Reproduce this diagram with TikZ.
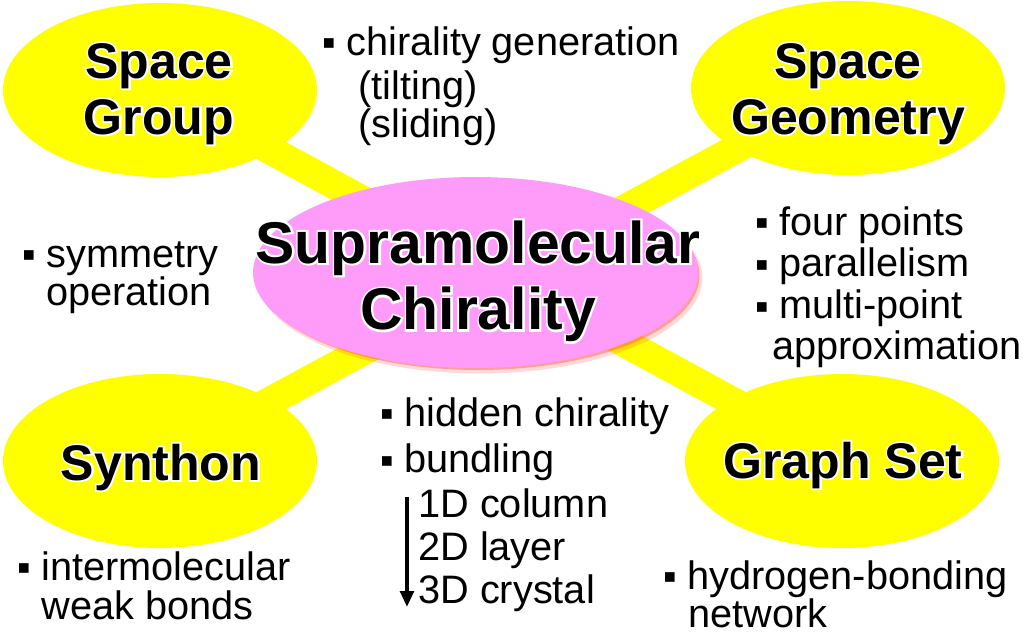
\documentclass[tikz,border=0pt]{standalone}
\usepackage{fontspec}
\setmainfont{Liberation Sans}
\newfontfamily\symfont{DejaVu Sans}
\newfontface\halofont{Liberation Sans Bold}[FakeBold=7]
\usetikzlibrary{shapes.geometric,arrows.meta}
\pgfdeclarelayer{background}
\pgfsetlayers{background,main}
\definecolor{topicyellow}{RGB}{255,255,0}
\definecolor{hubpink}{RGB}{255,156,250}
\definecolor{hubglow}{RGB}{255,70,60}
\newcommand\topicfont{\fontsize{28.5}{32}\selectfont\bfseries}
\newcommand\hubfont{\fontsize{33.5}{38}\selectfont\bfseries}
\newcommand\bodyfont{\fontsize{22.6}{23}\selectfont}
\newcommand\wc[1]{\leavevmode\rlap{\halofont\color{white}#1}#1}
\newcommand\twolines[2]{\vtop{\halign{\hfil##\hfil\cr\wc{#1}\cr\wc{#2}\cr}}}
\newcommand\blt{\makebox[0.48cm][l]{\raisebox{3.5pt}{\symfont\fontsize{11}{11}\selectfont ▪}}}
\newcommand\indentby[1]{\hspace*{#1}}
\newcommand\blines[1]{\vtop{#1}}
\newcommand\bline[1]{\hbox{#1}}
\begin{document}
\begin{tikzpicture}[x=0.02cm,y=-0.02cm,
  topic/.style={ellipse, fill=topicyellow, inner sep=0pt, minimum width=6.28cm, minimum height=3.48cm},
  hub/.style={ellipse, fill=hubpink, inner sep=0pt, minimum width=8.9cm, minimum height=3.82cm},
  glowring/.style={ellipse, fill=hubglow, inner sep=0pt, minimum width=8.9cm, minimum height=3.82cm},
  label/.style={anchor=base, inner sep=0pt},
  bar/.style={topicyellow, line width=0.58cm},
  body/.style={anchor=base west, inner sep=0pt, font=\bodyfont},
  stagearrow/.style={line width=2.2pt, -{Triangle[width=0.27cm,length=0.32cm]}}
]
\useasboundingbox (0,0) rectangle (1024,639);
% topic ellipses
\node[topic] (sg) at (160,90) {};
\node[topic] (sgeo) at (848,88) {};
\node[topic] (syn) at (160,461) {};
\node[topic] (gs) at (842,461) {};
% hub with soft red glow
\node[glowring, opacity=.2] (glowb) at (480,278) {};
\node[glowring, opacity=.4, minimum width=8.86cm, minimum height=3.78cm] (glowa) at (478,275.5) {};
\node[hub] (hub) at (475.5,272.5) {};
% connecting bars
\begin{pgfonlayer}{background}
\fill[white] (0,0) rectangle (1024,639);
\draw[bar] (sg.center) -- (gs.center);
\draw[bar] (syn.center) -- (sgeo.center);
\end{pgfonlayer}
% labels
\node[label, font=\topicfont] (sgL) at (159,78) {\twolines{Space}{Group}};
\node[label, font=\topicfont] (sgeoL) at (848,78) {\twolines{Space}{Geometry}};
\node[label, font=\topicfont] (synL) at (161,480) {\wc{Synthon}};
\node[label, font=\topicfont] (gsL) at (843,478) {\wc{Graph Set}};
\node[label, font=\hubfont] (hubL) at (478,263) {\twolines{Supramolecular}{Chirality}};
% body texts
\node[body] (genT) at (322,55) {\blines{\baselineskip=19.9pt
  \bline{\blt chirality generation}\kern3pt
  \bline{\indentby{0.72cm}(tilting)}
  \bline{\indentby{0.72cm}(sliding)}}};
\node[body] (symT) at (22,267) {\blines{\baselineskip=20.5pt
  \bline{\blt symmetry}
  \bline{\indentby{0.48cm}operation}}};
\node[body] (geoT) at (755,235) {\blines{\baselineskip=23.7pt
  \bline{\blt four points}
  \bline{\blt parallelism}
  \bline{\blt multi-point}
  \bline{\indentby{0.34cm}approximation}}};
\node[body] (bundT) at (380,426) {\blines{\baselineskip=26.7pt
  \bline{\blt hidden chirality}
  \bline{\blt bundling}}};
\node[body] (stageT) at (418,517) {\blines{\baselineskip=24.7pt
  \bline{1D column}
  \bline{2D layer}
  \bline{3D crystal}}};
\coordinate (arrTop) at (407,497);
\coordinate (arrBot) at (407,607);
\draw[stagearrow] (arrTop) -- (arrBot);
\node[body] (synT) at (17,580) {\blines{\baselineskip=22.2pt
  \bline{\blt intermolecular}
  \bline{\indentby{0.48cm}weak bonds}}};
\node[body] (gsT) at (663,589) {\blines{\baselineskip=21pt
  \bline{\blt hydrogen-bonding}
  \bline{\indentby{0.5cm}network}}};
\end{tikzpicture}
\end{document}
